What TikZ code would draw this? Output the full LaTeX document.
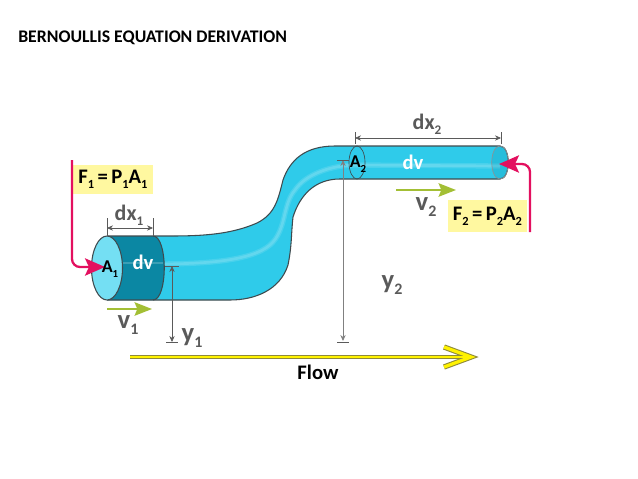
\documentclass[tikz,border=0pt]{standalone}
\usepackage{fontspec}
\setmainfont{Carlito}
\usetikzlibrary{arrows.meta}
\definecolor{pipeblue}{HTML}{2FCBEA}
\definecolor{faceblue}{HTML}{74DFF3}
\definecolor{banddark}{HTML}{0B87A3}
\definecolor{edgegray}{HTML}{3F4A4E}
\definecolor{forcered}{HTML}{E3105F}
\definecolor{velgreen}{HTML}{A3BF35}
\definecolor{notebox}{HTML}{FFF8A0}
\definecolor{labelgray}{HTML}{5A5A5A}
\definecolor{flowedge}{HTML}{8E8A3A}
\newcommand{\lowidx}[1]{\raisebox{-.5ex}{\scalebox{.6}{#1}}}
\tikzset{
  pipeedge/.style={draw=edgegray,line width=.8pt},
  dimline/.style={draw=labelgray,line width=.5pt,{Stealth[length=4.5pt,width=4pt]}-{Stealth[length=4.5pt,width=4pt]}},
  tickline/.style={draw=labelgray,line width=.4pt},
  forcearrow/.style={draw=forcered,line width=1.7pt,rounded corners=6pt,-{Stealth[length=15pt,width=13pt,inset=3pt]}},
  velarrow/.style={draw=velgreen,line width=1.8pt,-{Stealth[length=13pt,width=10pt,inset=2pt]}},
  forcebox/.style={fill=notebox,font=\fontsize{15.5}{18}\bfseries,inner sep=0pt},
  graylabel/.style={text=labelgray,font=\fontsize{16.5}{18}\bfseries,inner sep=0pt},
  biglabel/.style={text=labelgray,font=\fontsize{20}{22}\bfseries,inner sep=0pt},
  arealabel/.style={text=black,font=\fontsize{13.5}{15}\bfseries,inner sep=0pt},
  dvlabel/.style={text=white,font=\fontsize{15.5}{17}\bfseries,inner sep=0pt}
}
\begin{document}
\begin{tikzpicture}[x=.75pt,y=-.75pt]
  \useasboundingbox (0,0) rectangle (638,478);
  \node[anchor=west,inner sep=0pt,font=\fontsize{13.3}{15}\bfseries] (title) at (18,38) {BERNOULLIS EQUATION DERIVATION};
  % pipe
  \fill[pipeblue] (107,236) -- (153,236) .. controls (190,236) and (225,237) .. (257,223)
    .. controls (275,214) and (278,200) .. (283,180) .. controls (290,160) and (305,146) .. (335,146)
    -- (500,146) .. controls (511,146) and (511,179) .. (500,179) -- (340,179)
    .. controls (315,179) and (300,195) .. (293,217) .. controls (291,235) and (292,245) .. (288,265)
    .. controls (280,290) and (255,300) .. (230,300) -- (107,300) -- cycle;
  \draw[white,opacity=.12,line width=4pt] (153,264) .. controls (200,264) and (250,262) .. (270,245)
    .. controls (287,230) and (282,205) .. (295,190) .. controls (305,175) and (330,165) .. (357,165) -- (500,166);
  \draw[white,opacity=.15,line width=2pt] (153,264) .. controls (200,264) and (250,262) .. (270,245)
    .. controls (287,230) and (282,205) .. (295,190) .. controls (305,175) and (330,165) .. (357,165) -- (500,166);
  \fill[banddark] (107,236) -- (153,236) .. controls (168,236) and (168,300) .. (153,300) -- (107,300) -- cycle;
  \draw[white,opacity=.2,line width=2pt] (122,263) -- (163,263);
  \draw[pipeedge] (153,236) .. controls (190,236) and (225,237) .. (257,223)
    .. controls (275,214) and (278,200) .. (283,180) .. controls (290,160) and (305,146) .. (335,146) -- (500,146)
    .. controls (511,146) and (511,179) .. (500,179) -- (340,179)
    .. controls (315,179) and (300,195) .. (293,217) .. controls (291,235) and (292,245) .. (288,265)
    .. controls (280,290) and (255,300) .. (230,300) -- (107,300);
  \draw[pipeedge] (107,236) -- (153,236) .. controls (168,236) and (168,300) .. (153,300);
  \draw[pipeedge,fill=faceblue] (107,268) ellipse (15.5 and 32);
  \draw[edgegray,line width=.5pt] (357,162.5) ellipse (8 and 16.5);
  \draw[edgegray!60,line width=.5pt,fill=banddark,fill opacity=.2] (500,146) .. controls (489,146) and (489,179) .. (500,179)
    .. controls (511,179) and (511,146) .. (500,146);
  % force boxes
  \node[forcebox,minimum width=60pt,minimum height=22pt] (fone) at (113,179.5) {F\lowidx{1}\,=\,P\lowidx{1}A\lowidx{1}};
  \node[forcebox,minimum width=59pt,minimum height=24pt] (ftwo) at (487.5,216) {F\lowidx{2}\,=\,P\lowidx{2}A\lowidx{2}};
  % forces
  \coordinate (fonestart) at (72,160);
  \coordinate (fonebend) at (72,267);
  \coordinate (fonetip) at (105,267);
  \coordinate (ftwostart) at (530,232);
  \coordinate (ftwobend) at (530,164);
  \coordinate (ftwotip) at (499,164);
  \draw[forcearrow] (fonestart) -- (fonebend) -- (fonetip);
  \draw[forcearrow] (ftwostart) -- (ftwobend) -- (ftwotip);
  % area and volume labels
  \node[arealabel] (aone) at (110,269) {A\lowidx{1}};
  \node[arealabel] (atwo) at (358,164) {A\lowidx{2}};
  \node[dvlabel] (dvone) at (143,262) {dv};
  \node[dvlabel] (dvtwo) at (413,162) {dv};
  % widths
  \coordinate (dxonea) at (107,228);
  \coordinate (dxoneb) at (153,228);
  \coordinate (dxtwoa) at (355,138);
  \coordinate (dxtwob) at (501,138);
  \draw[dimline] (dxonea) -- (dxoneb);
  \draw[dimline] (dxtwoa) -- (dxtwob);
  \draw[tickline] (107,218) -- (107,236);
  \draw[tickline] (153,218) -- (153,236);
  \draw[tickline] (355,132) -- (355,144);
  \draw[tickline] (501,132) -- (501,144);
  \node[graylabel] (dxone) at (129,215) {dx\lowidx{1}};
  \node[graylabel] (dxtwo) at (427,124) {dx\lowidx{2}};
  % velocities
  \coordinate (vonea) at (107,309);
  \coordinate (voneb) at (152,309);
  \coordinate (vtwoa) at (396,190);
  \coordinate (vtwob) at (456,190);
  \draw[velarrow] (vonea) -- (voneb);
  \draw[velarrow] (vtwoa) -- (vtwob);
  \node[biglabel] (vone) at (128,325) {v\lowidx{1}};
  \node[biglabel] (vtwo) at (426,207) {v\lowidx{2}};
  % heights
  \coordinate (yonea) at (172,266);
  \coordinate (yoneb) at (172,342);
  \coordinate (ytwoa) at (343,160);
  \coordinate (ytwob) at (343,341);
  \draw[dimline] (yonea) -- (yoneb);
  \draw[dimline,draw=gray,line width=.7pt] (ytwoa) -- (ytwob);
  \draw[tickline] (165,266) -- (179,266);
  \draw[tickline] (166,342) -- (178,342);
  \draw[tickline] (337,160) -- (349,160);
  \draw[tickline] (337,342) -- (349,342);
  \node[biglabel] (yone) at (192,338) {y\lowidx{1}};
  \node[biglabel] (ytwo) at (392,285) {y\lowidx{2}};
  % flow arrow
  \coordinate (flowa) at (130,357);
  \coordinate (flowb) at (471,357);
  \draw[flowedge,line width=3.4pt] (flowa) -- (flowb);
  \draw[flowedge,line width=4pt] (444,347) -- (flowb) -- (444,367);
  \draw[yellow,line width=2pt] (flowa) -- (flowb);
  \draw[yellow,line width=2.4pt] (444,347) -- (flowb) -- (444,367);
  \node[inner sep=0pt,font=\fontsize{15.5}{17}\bfseries] (flow) at (318,372) {Flow};
\end{tikzpicture}
\end{document}
